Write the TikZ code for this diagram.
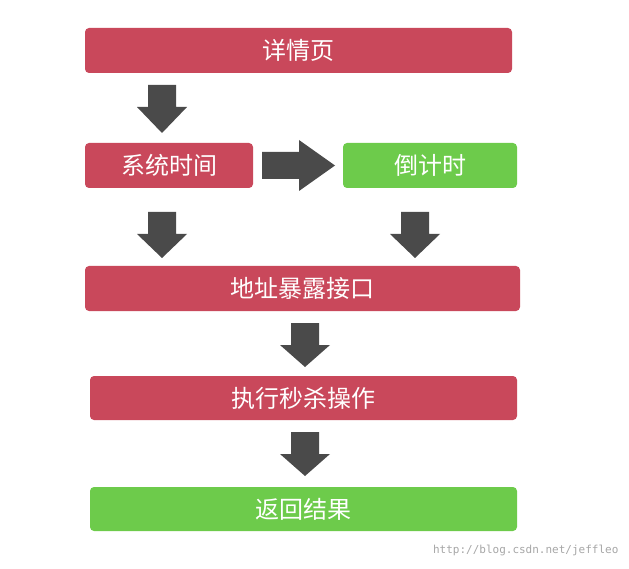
\documentclass[tikz,border=0pt]{standalone}
\usepackage{fontspec}
\setmainfont{Noto Sans CJK SC}
\setmonofont{DejaVu Sans Mono}
\definecolor{boxred}{HTML}{C9485B}
\definecolor{boxgreen}{HTML}{6DCB4B}
\definecolor{arr}{HTML}{4A4A4A}
\begin{document}
\begin{tikzpicture}[x=1pt,y=-1pt,
  box/.style={rounded corners=4pt,text=white,font=\fontsize{24}{28}\selectfont},
  darrow/.style={fill=arr}]
\useasboundingbox (0,0) rectangle (629,569);
\newcommand{\downarr}[3]{\fill[arr] (#1-14,#2) -- (#1+14,#2) -- (#1+14,#2+22) -- (#1+25,#2+22) -- (#1,#3) -- (#1-25,#2+22) -- (#1-14,#2+22) -- cycle;}
\fill[boxred,rounded corners=4pt] (85,28) rectangle (512,73);
\node[box] (a) at (298.5,50.5) {详情页};
\fill[boxred,rounded corners=4pt] (85,143) rectangle (253,188);
\node[box] (b) at (169,165.5) {系统时间};
\fill[boxgreen,rounded corners=4pt] (343,143) rectangle (517,188);
\node[box] (c) at (430,165.5) {倒计时};
\fill[boxred,rounded corners=4pt] (85,266) rectangle (520,311);
\node[box] (d) at (302.5,288.5) {地址暴露接口};
\fill[boxred,rounded corners=4pt] (90,376) rectangle (517,420);
\node[box] (e) at (303.5,398) {执行秒杀操作};
\fill[boxgreen,rounded corners=4pt] (90,487) rectangle (517,531);
\node[box] (f) at (303.5,509) {返回结果};
\downarr{162}{85}{133}
\downarr{162}{212}{258}
\downarr{415}{212}{258}
\downarr{305}{323}{367}
\downarr{305}{432}{476}
\fill[arr] (262,152) -- (299,152) -- (299,140) -- (335,165.5) -- (299,191) -- (299,179) -- (262,179) -- cycle;
\node[font=\ttfamily\fontsize{11}{13}\selectfont,text=black!35,anchor=east] (w) at (622,550) {http://blog.csdn.net/jeffleo};
\end{tikzpicture}
\end{document}
